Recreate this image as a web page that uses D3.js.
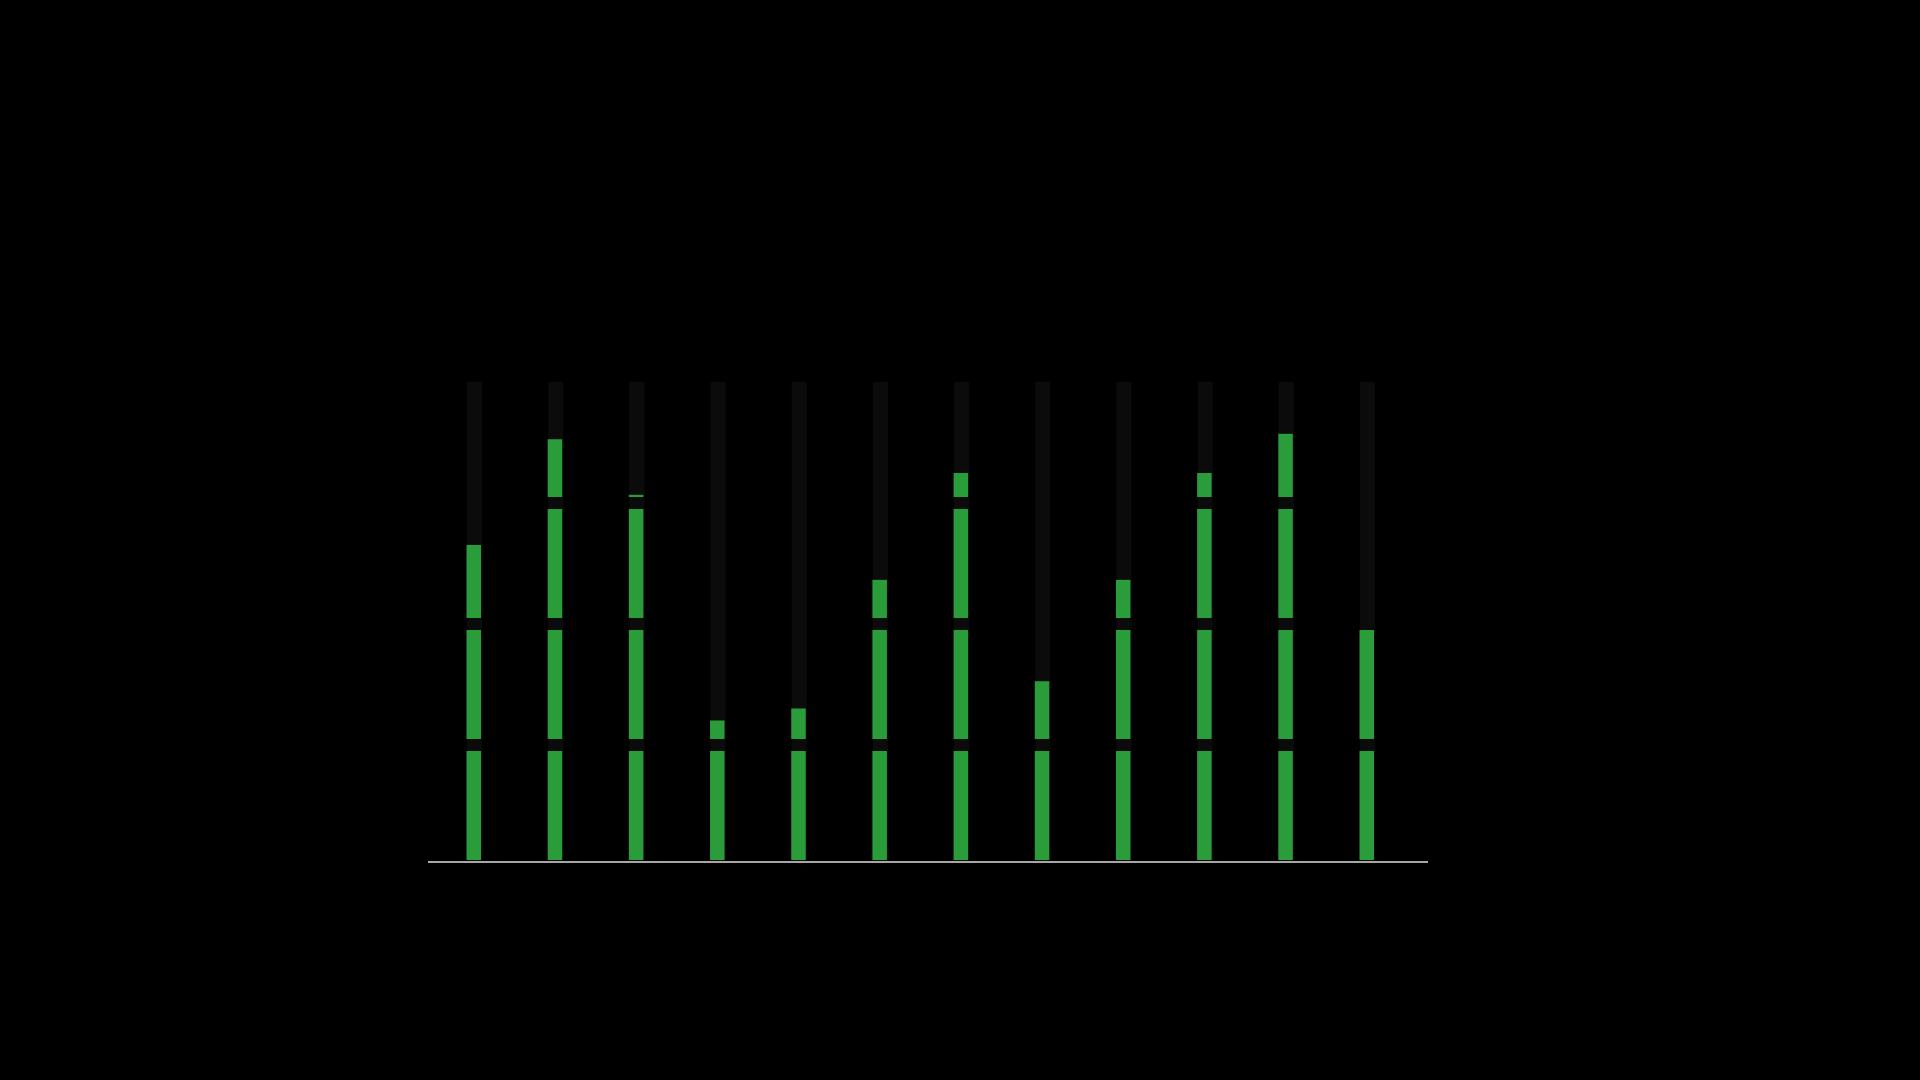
<!DOCTYPE html>
<html>
<head>
<meta charset="utf-8">
<script src="https://cdn.jsdelivr.net/npm/d3@7"></script>
<style>
  html, body { margin: 0; padding: 0; background: #000; }
  svg { display: block; }
</style>
</head>
<body>
<svg id="chart" width="1920" height="1080"></svg>
<script>
const width = 1920, height = 1080;

// one value per column (scale 0..4, one segment per unit)
const categories = ["1", "2", "3", "4", "5", "6", "7", "8", "9", "10", "11", "12"];
const values = [2.67, 3.53, 3.02, 1.17, 1.28, 2.35, 3.22, 1.53, 2.35, 3.22, 3.58, 2.0];
const segments = [0, 1, 2, 3];

const green = "#2a9c3a", track = "#0b0b0b";
const gapTop = 11, gapBottom = 1;

const svg = d3.select("#chart");

const x = d3.scaleBand()
    .domain(categories)
    .range([467, 1375])
    .paddingInner(0.815)
    .paddingOuter(0);

const y = d3.scaleLinear()
    .domain([0, 4])
    .range([861, 377]);

// background track behind every column
svg.append("g")
    .selectAll("rect")
    .data(categories)
    .enter()
    .append("rect")
    .attr("x", d => x(d))
    .attr("width", x.bandwidth())
    .attr("y", y(4) + 5)
    .attr("height", y(0) - 1 - (y(4) + 5))
    .attr("fill", track);

// each column split in unit segments, each one filled by its share of the value
const cells = [];
categories.forEach((c, i) => {
    segments.forEach(k => {
        const frac = Math.max(0, Math.min(1, values[i] - k));
        if (frac > 0) cells.push({ cat: c, k: k, frac: frac });
    });
});

const segBottom = k => y(k) - gapBottom;
const segTop = k => y(k + 1) + gapTop;

svg.append("g")
    .selectAll("rect")
    .data(cells)
    .enter()
    .append("rect")
    .attr("x", d => x(d.cat) - 0.5)
    .attr("width", x.bandwidth() - 0.5)
    .attr("y", d => segBottom(d.k) - d.frac * (segBottom(d.k) - segTop(d.k)))
    .attr("height", d => d.frac * (segBottom(d.k) - segTop(d.k)))
    .attr("fill", green);

// baseline
svg.append("line")
    .attr("x1", 428)
    .attr("x2", 1428)
    .attr("y1", y(0) + 1)
    .attr("y2", y(0) + 1)
    .attr("stroke", "#a6a6a6")
    .attr("stroke-width", 2);
</script>
</body>
</html>
